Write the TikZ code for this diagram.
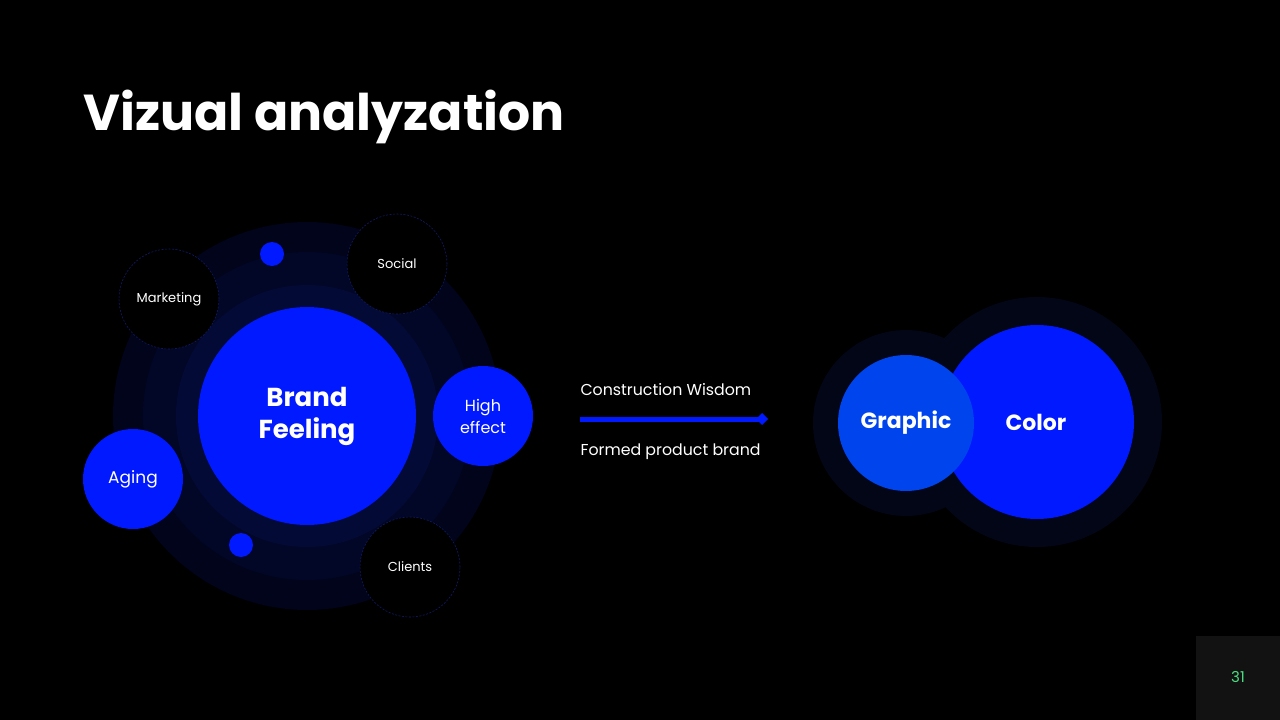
\documentclass[tikz,border=0pt]{standalone}
\usepackage{fontspec}
\setmainfont{Poppins}
\usetikzlibrary{positioning, arrows.meta}
\definecolor{bluemain}{HTML}{0019FF}
\definecolor{bluegraph}{HTML}{0044EE}
\definecolor{ringa}{HTML}{01041A}
\definecolor{ringb}{HTML}{020727}
\definecolor{ringc}{HTML}{030A36}
\definecolor{halo}{HTML}{020617}
\definecolor{edgeblue}{HTML}{101A66}
\definecolor{pagegreen}{HTML}{4ADE80}
\begin{document}
\begin{tikzpicture}[x=1pt, y=-1pt, font=\fontsize{11}{13}\selectfont]

        % Styles
        \tikzstyle{bubble} = [circle, fill=bluemain, text=white, align=center, inner sep=0pt]
        \tikzstyle{hollow} = [circle, fill=black, draw=edgeblue, dash pattern=on 2pt off 1.5pt, line width=0.6pt, text=white, align=center, inner sep=0pt, minimum size=100pt]
        \tikzstyle{ring} = [circle, inner sep=0pt]

        % Background
        \fill[black] (0,0) rectangle (1280,720);
        \useasboundingbox (0,0) rectangle (1280,720);

        % Title
        \node[anchor=base west, text=white, font=\fontsize{50.5}{56}\selectfont\bfseries] (title) at (80,130) {Vizual analyzation};

        % --- LEFT: RINGS ---
        \node[ring, fill=ringa, minimum size=388pt] (ringout) at (307,416) {};
        \node[ring, fill=ringb, minimum size=328pt] (ringmid) at (307,416) {};
        \node[ring, fill=ringc, minimum size=262pt] (ringin) at (307,416) {};
        \node[bubble, minimum size=218pt, font=\fontsize{26}{32}\selectfont\bfseries] (brand) at (307,416) {Brand\\Feeling};

        % Satellites
        \node[hollow, font=\fontsize{13}{15}\selectfont] (marketing) at (169,299) {Marketing};
        \node[hollow, font=\fontsize{13}{15}\selectfont] (social) at (397,264) {Social};
        \node[hollow, font=\fontsize{13}{15}\selectfont] (clients) at (410,567) {Clients};
        \node[bubble, minimum size=100pt, font=\fontsize{16}{22}\selectfont] (high) at (483,416) {High\\effect};
        \node[bubble, minimum size=100pt, font=\fontsize{17}{20}\selectfont] (aging) at (133,479) {Aging};
        \node[bubble, minimum size=24pt] (dotup) at (272,254) {};
        \node[bubble, minimum size=24pt] (dotdown) at (241,545) {};

        % --- MIDDLE: ARROW ---
        \coordinate (arrstart) at (580,419);
        \coordinate (arrend) at (768,419);
        \draw[bluemain, line width=5pt, -{Diamond[length=12pt, width=12pt]}] (arrstart) -- (arrend);
        \node[anchor=base west, text=white, font=\fontsize{15.8}{20}\selectfont] (wisdom) at (577,395) {Construction Wisdom};
        \node[anchor=base west, text=white, font=\fontsize{15.8}{20}\selectfont] (formed) at (577,455) {Formed product brand};

        % --- RIGHT: OVERLAP ---
        \node[ring, fill=halo, minimum size=250pt] (colorhalo) at (1037,422) {};
        \node[ring, fill=halo, minimum size=186pt] (graphhalo) at (906,423) {};
        \node[bubble, minimum size=194pt] (colorc) at (1037,422) {};
        \node[bubble, fill=bluegraph, minimum size=136pt] (graphic) at (906,423) {};
        \node[text=white, font=\fontsize{22}{26}\selectfont\bfseries] at (graphic) {Graphic};
        \node[text=white, font=\fontsize{22}{26}\selectfont\bfseries] at (1036,422) {Color};

        % Page number
        \fill[black!93!white] (1196,636) rectangle (1280,720);
        \node[text=pagegreen, font=\fontsize{15}{18}\selectfont] (page) at (1238,677) {31};

    \end{tikzpicture}
\end{document}
